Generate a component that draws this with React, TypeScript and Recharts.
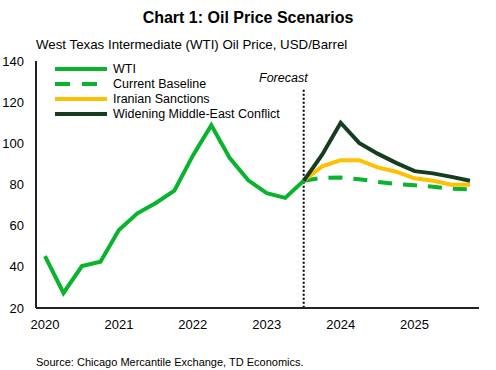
import React from "react";
import { LineChart, Line, XAxis, YAxis, ReferenceLine } from "recharts";

const quarters = [
  "2020Q1", "2020Q2", "2020Q3", "2020Q4",
  "2021Q1", "2021Q2", "2021Q3", "2021Q4",
  "2022Q1", "2022Q2", "2022Q3", "2022Q4",
  "2023Q1", "2023Q2", "2023Q3", "2023Q4",
  "2024Q1", "2024Q2", "2024Q3", "2024Q4",
  "2025Q1", "2025Q2", "2025Q3", "2025Q4",
];

const wti = [45.2, 27.3, 40.4, 42.5, 57.9, 66, 71, 77, 94, 108.8, 92.8, 82, 75.8, 73.5, 81.8,
  null, null, null, null, null, null, null, null, null];
const baseline = [null, null, null, null, null, null, null, null, null, null, null, null, null, null,
  81.8, 83.3, 83.4, 82.6, 81.3, 80.2, 79.6, 78.9, 77.9, 77.6];
const iranian = [null, null, null, null, null, null, null, null, null, null, null, null, null, null,
  81.8, 88.8, 91.8, 91.8, 88.3, 86.2, 83, 81.8, 79.9, 79.9];
const widening = [null, null, null, null, null, null, null, null, null, null, null, null, null, null,
  81.8, 94.5, 110, 100.2, 95, 90.5, 86.5, 85.4, 83.7, 81.8];

const yearTicks = ["2020Q1", "2021Q1", "2022Q1", "2023Q1", "2024Q1", "2025Q1"];
const yTicks = [20, 40, 60, 80, 100, 120, 140];

const GREEN = "#08B42D";
const DARK = "#173D1E";
const YELLOW = "#FFC000";
const FONT = "'Liberation Sans', Arial, sans-serif";

const data = quarters.map((q, i) => ({
  q,
  wti: wti[i],
  baseline: baseline[i],
  iranian: iranian[i],
  widening: widening[i],
}));

const legendItems = [
  { name: "WTI", color: GREEN, dash: undefined as string | undefined },
  { name: "Current Baseline", color: GREEN, dash: "15 12" },
  { name: "Iranian Sanctions", color: YELLOW, dash: undefined },
  { name: "Widening Middle-East Conflict", color: DARK, dash: undefined },
];

export default function App() {
  return (
    <div style={{ position: "absolute", left: 0, top: 0, width: 496, height: 370, background: "#fff", fontFamily: FONT }}>
      <div style={{ position: "absolute", left: 0, width: 496, top: 9, textAlign: "center", fontWeight: "bold", fontSize: 16, color: "#000" }}>
        Chart 1: Oil Price Scenarios
      </div>
      <div style={{ position: "absolute", left: 36, top: 37, fontSize: 13.3, color: "#000", whiteSpace: "nowrap" }}>
        West Texas Intermediate (WTI) Oil Price, USD/Barrel
      </div>
      <LineChart
        width={496}
        height={370}
        data={data}
        margin={{ top: 61, right: 17, left: 0, bottom: 32 }}
        style={{ position: "absolute", left: 0, top: 0 }}
      >
        <XAxis
          dataKey="q"
          ticks={yearTicks}
          interval={0}
          padding={{ left: 9, right: 9 }}
          tickFormatter={(v: string) => v.slice(0, 4)}
          tickLine={false}
          tickSize={5}
          tickMargin={7}
          height={30}
          axisLine={{ stroke: "#222", strokeWidth: 2 }}
          tick={{ fill: "#000", fontSize: 13, fontFamily: FONT }}
        />
        <YAxis
          domain={[20, 140]}
          ticks={yTicks}
          width={36}
          tickLine={false}
          tickSize={6}
          tickMargin={6}
          interval={0}
          axisLine={{ stroke: "#222", strokeWidth: 2 }}
          tick={{ fill: "#000", fontSize: 13, fontFamily: FONT }}
        />
        <ReferenceLine
          segment={[{ x: "2023Q3", y: 126 }, { x: "2023Q3", y: 20 }]}
          stroke="#000"
          strokeWidth={2}
          strokeDasharray="2 2"
        />
        <Line dataKey="wti" stroke={GREEN} strokeWidth={4} dot={false} isAnimationActive={false} connectNulls={false} />
        <Line dataKey="baseline" stroke={GREEN} strokeWidth={4} strokeDasharray="14 11" dot={false} isAnimationActive={false} />
        <Line dataKey="iranian" stroke={YELLOW} strokeWidth={4} dot={false} isAnimationActive={false} />
        <Line dataKey="widening" stroke={DARK} strokeWidth={4} dot={false} isAnimationActive={false} />
      </LineChart>
      <div style={{ position: "absolute", left: 259, top: 71, fontSize: 12.5, fontStyle: "italic", color: "#000" }}>
        Forecast
      </div>
      <svg width={240} height={70} style={{ position: "absolute", left: 50, top: 60 }}>
        {legendItems.map((it, i) => (
          <g key={it.name}>
            <line x1={5} x2={57} y1={9 + i * 15} y2={9 + i * 15} stroke={it.color} strokeWidth={4} strokeDasharray={it.dash} />
            <text x={63} y={9 + i * 15} dy="0.35em" fontSize={12.5} fontFamily={FONT} fill="#000">{it.name}</text>
          </g>
        ))}
      </svg>
      <div style={{ position: "absolute", left: 36, top: 356, fontSize: 11, color: "#000", whiteSpace: "nowrap" }}>
        Source: Chicago Mercantile Exchange, TD Economics.
      </div>
    </div>
  );
}
